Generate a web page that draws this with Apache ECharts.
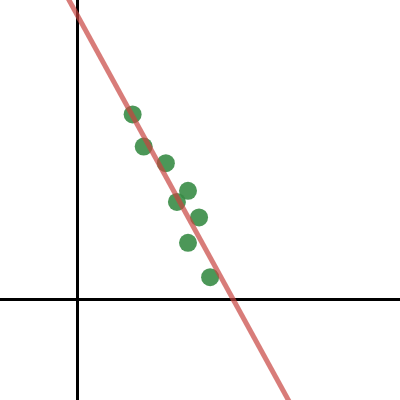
<!DOCTYPE html>
<html>
<head>
<meta charset="utf-8">
<script src="https://cdn.jsdelivr.net/npm/echarts@6/dist/echarts.min.js"></script>
<style>
  html, body { margin: 0; padding: 0; background: #fff; }
  #main { width: 400px; height: 400px; }
</style>
</head>
<body>
<div id="main"></div>
<script>
// 数据点
var xValues = [5, 6, 8, 10, 9, 11, 10, 12];
var yValues = [16.7, 13.8, 12.3, 9.8, 8.8, 7.4, 5.1, 2.0];
// 回归线 y = a + b*x
var lineIntercept = 25.67;
var lineSlope = -1.824;
// 坐标范围
var xRange = [-6.98, 29.15];
var yRange = [-9.1, 27.04];

var points = [];
for (var i = 0; i < xValues.length; i++) {
    points.push([xValues[i], yValues[i]]);
}
// 线的两端取在 x 轴范围两头，超出部分被裁掉
var linePts = xRange.map(function (x) {
    return [x, lineIntercept + lineSlope * x];
});

var myChart = echarts.init(document.getElementById('main'));
var option = {
    animation: false,
    grid: { left: 0, right: 0, top: 0, bottom: 0 },
    xAxis: {
        type: 'value',
        min: xRange[0],
        max: xRange[1],
        axisLine: { onZero: true, lineStyle: { color: '#000', width: 3 } },
        axisTick: { show: false },
        axisLabel: { show: false },
        splitLine: { show: false }
    },
    yAxis: {
        type: 'value',
        min: yRange[0],
        max: yRange[1],
        axisLine: { show: true, onZero: true, lineStyle: { color: '#000', width: 3 } },
        axisTick: { show: false },
        axisLabel: { show: false },
        splitLine: { show: false }
    },
    series: [
        {
            type: 'scatter',
            data: points,
            symbolSize: 18,
            itemStyle: { color: '#388c46', opacity: 0.9 },
            z: 2
        },
        {
            type: 'line',
            data: linePts,
            symbol: 'none',
            clip: true,
            lineStyle: { color: '#c74440', width: 5, opacity: 0.7 },
            z: 3
        }
    ]
};
myChart.setOption(option);
</script>
</body>
</html>
